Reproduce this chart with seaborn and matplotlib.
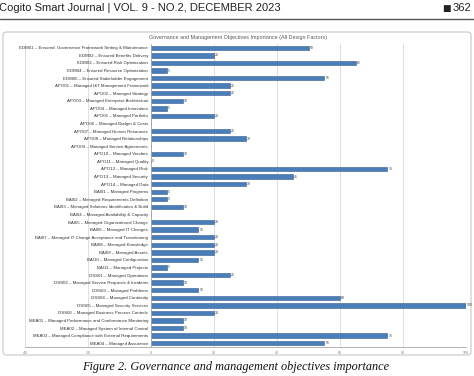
import matplotlib
matplotlib.use('Agg')
import matplotlib.pyplot as plt
import seaborn as sns
import pandas as pd
from matplotlib.patches import FancyBboxPatch

# ── Data ──────────────────────────────────────────────────────────────────────
codes = ['EDM01', 'EDM02', 'EDM03', 'EDM04', 'EDM05',
         'APO01', 'APO02', 'APO03', 'APO04', 'APO05', 'APO06', 'APO07',
         'APO08', 'APO09', 'APO10', 'APO11', 'APO12', 'APO13', 'APO14',
         'BAI01', 'BAI02', 'BAI03', 'BAI04', 'BAI05', 'BAI06', 'BAI07',
         'BAI08', 'BAI09', 'BAI10', 'BAI11',
         'DSS01', 'DSS02', 'DSS03', 'DSS04', 'DSS05', 'DSS06',
         'MEA01', 'MEA02', 'MEA03', 'MEA04']
names = ['Ensured  Governance Framework Setting & Maintenance',
         'Ensured Benefits Delivery',
         'Ensured Risk Optimization',
         'Ensured Resource Optimization',
         'Ensured Stakeholder Engagement',
         'Managed I&T Management Framework',
         'Managed Strategy',
         'Managed Enterprise Architecture',
         'Managed Innovation',
         'Managed Portfolio',
         'Managed Budget & Costs',
         'Managed Human Resources',
         'Managed Relationships',
         'Managed Service Agreements',
         'Managed Vendors',
         'Managed Quality',
         'Managed Risk',
         'Managed Security',
         'Managed Data',
         'Managed Programs',
         'Managed Requirements Definition',
         'Managed Solutions Identification & Build',
         'Managed Availability & Capacity',
         'Managed Organizational Change',
         'Managed IT Changes',
         'Managed IT Change Acceptance and Transitioning',
         'Managed Knowledge',
         'Managed Assets',
         'Managed Configuration',
         'Managed Projects',
         'Managed Operations',
         'Managed Service Requests & Incidents',
         'Managed Problems',
         'Managed Continuity',
         'Managed Security Services',
         'Managed Business Process Controls',
         'Managed Performance and Conformance Monitoring',
         'Managed System of Internal Control',
         'Managed Compliance with External Requirements',
         'Managed Assurance']
importance = [50, 20, 65, 5, 55,
              25, 25, 10, 5, 20, 0, 25, 30, 0, 10, 0, 75, 45, 30,
              5, 5, 10, 0, 20, 15, 20, 20, 20, 15, 5,
              25, 10, 15, 60, 100, 20,
              10, 10, 75, 55]
no_label = ['APO06', 'APO09', 'BAI04']   # no data label shown in the source
x_ticks = [-40, -20, 0, 20, 40, 60, 80, 100]

labels = [f'{c} \u2013 {n}' for c, n in zip(codes, names)]
df = pd.DataFrame({'objective': labels, 'importance': importance})

# ── Figure ────────────────────────────────────────────────────────────────────
sns.set_theme(style='white')
plt.rcParams['font.family'] = ['Liberation Sans', 'DejaVu Sans']

W, H = 474, 376
fig = plt.figure(figsize=(W / 100, H / 100), dpi=100)

# page header
fig.text(-1 / W, 1 - 11 / H, 'Cogito Smart Journal | VOL. 9 - NO.2, DECEMBER 2023',
         fontsize=8, color='#222222', ha='left', va='baseline')
fig.text(442 / W, 1 - 11 / H, '\u25a0', fontsize=6.5, color='#222222',
         ha='left', va='baseline', family=['DejaVu Sans'])
fig.text(453 / W, 1 - 11 / H, '362', fontsize=8, color='#222222',
         ha='left', va='baseline')
fig.add_artist(plt.Line2D([0, 1], [1 - 18.5 / H, 1 - 18.5 / H],
                          color='#555555', lw=1.0, transform=fig.transFigure))

# chart frame
frame = FancyBboxPatch((3 / W, 1 - 355 / H), 468 / W, 323 / H,
                       boxstyle='round,pad=0,rounding_size=0.008',
                       transform=fig.transFigure, facecolor='white',
                       edgecolor='#c8c8c8', lw=0.8, zorder=0)
fig.add_artist(frame)

fig.text(238 / W, 1 - 38 / H,
         'Governance and Management Objectives Importance (All Design Factors)',
         fontsize=3.9, color='#595959', ha='center', va='center')

ax = fig.add_axes([25 / W, 1 - 347 / H, 441 / W, 303 / H])
ax.patch.set_alpha(0)
sns.barplot(data=df, x='importance', y='objective', orient='h',
            color='#4a7ebb', edgecolor='#385d8a', linewidth=0.4,
            width=0.58, saturation=1, ax=ax)

bar_text = ['' if c in no_label else str(v) for c, v in zip(codes, importance)]
ax.bar_label(ax.containers[0], labels=bar_text, fontsize=2.5,
             color='#404040', padding=0.8)

ax.set_xlim(-40, 100)
ax.set_ylim(len(labels) - 0.5, -0.5)
ax.set_xticks(x_ticks)
ax.set_xticklabels([str(t) for t in x_ticks], fontsize=2.5, color='#7f7f7f')
ax.tick_params(axis='x', length=2, width=0.5, color='#a6a6a6', pad=1)
ax.tick_params(axis='y', length=0, pad=2, labelsize=3.2, labelcolor='#333333')
for t in ax.get_yticklabels():
    t.set_fontweight('bold')
ax.set_yticks([i + 0.5 for i in range(-1, len(labels))], minor=True)
ax.tick_params(axis='y', which='minor', length=2, width=0.4, color='#a6a6a6')

ax.grid(axis='x', color='#d9d9d9', lw=0.6)
ax.set_axisbelow(True)
ax.spines['left'].set_position(('data', 0))
ax.spines['left'].set_color('#a6a6a6')
ax.spines['left'].set_linewidth(0.6)
ax.spines['bottom'].set_color('#a6a6a6')
ax.spines['bottom'].set_linewidth(0.6)
ax.spines['top'].set_visible(False)
ax.spines['right'].set_visible(False)
ax.set_xlabel('')
ax.set_ylabel('')

# caption
fig.text(236 / W, 1 - 367 / H,
         'Figure 2. Governance and management objectives importance',
         fontsize=8.8, style='italic', family=['Liberation Serif'],
         color='#111111', ha='center', va='center')

plt.savefig('out.png', dpi=100)
